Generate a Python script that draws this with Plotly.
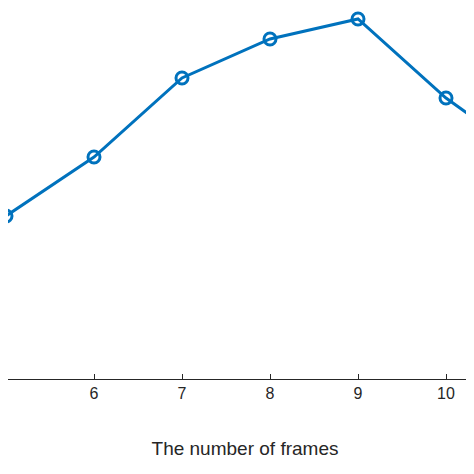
import plotly.graph_objects as go

frames = [5, 6, 7, 8, 9, 10, 11]
values = [170, 229, 308, 347, 367, 288, 225]

fig = go.Figure(go.Scatter(
    x=frames, y=values, mode="lines+markers",
    line=dict(color="#0072BD", width=3),
    marker=dict(symbol="circle-open", size=12, color="#0072BD", line=dict(width=3)),
    cliponaxis=True,
))
fig.update_layout(
    width=474, height=474, margin=dict(l=0, r=0, t=0, b=103),
    plot_bgcolor="white", paper_bgcolor="white", showlegend=False,
    font=dict(family="Liberation Sans, Arial", size=16, color="#262626"),
)
fig.update_xaxes(range=[5 + 2/88, 5 + 476/88], tickvals=[5, 6, 7, 8, 9, 10],
                 ticks="inside", ticklen=5, tickcolor="#262626", showline=True,
                 linecolor="#262626", linewidth=1, showgrid=False, zeroline=False,
                 title=dict(text="The number of frames", font=dict(size=19), standoff=40))
fig.update_yaxes(range=[7, 371 + 7], showticklabels=False, showgrid=False, zeroline=False, showline=False)
fig.write_html("out.html")
